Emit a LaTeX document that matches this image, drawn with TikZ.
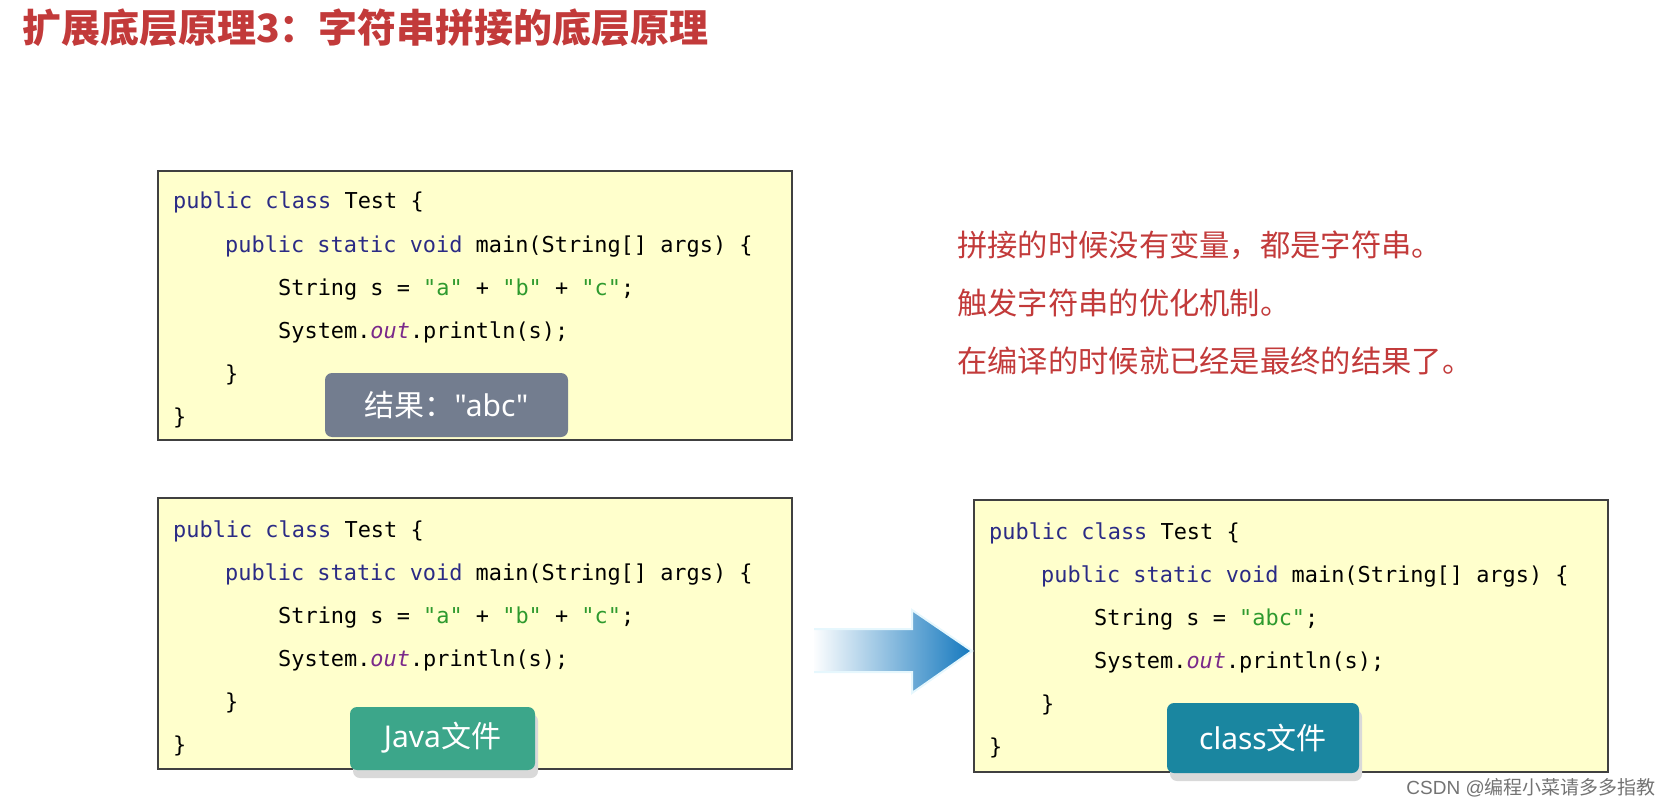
\documentclass[tikz,border=0pt]{standalone}
\usepackage{fontspec}
\setmonofont{DejaVu Sans Mono}
\newfontfamily\cjk{Noto Sans CJK SC}
\usetikzlibrary{positioning}
\definecolor{kw}{HTML}{2B2B85}
\definecolor{str}{HTML}{2E9A2E}
\definecolor{fld}{HTML}{7A2A8A}
\definecolor{boxfill}{HTML}{FFFFCC}
\definecolor{redt}{HTML}{C23A3A}
\definecolor{taggray}{HTML}{737D8F}
\definecolor{taggreen}{HTML}{3CA68A}
\definecolor{tagblue}{HTML}{1A86A0}
\definecolor{arrblue}{HTML}{1478BE}
\tikzset{
 codebox/.style={draw=black!75,line width=1.2pt,fill=boxfill,anchor=north west,inner sep=0pt},
 codeline/.style={anchor=base west,inner sep=0pt,font=\ttfamily\fontsize{21.9}{21.9}\selectfont},
 tag/.style={rounded corners=7pt,text=white,inner sep=0pt,font=\cjk\fontsize{30}{30}\selectfont},
 note/.style={anchor=base west,inner sep=0pt,text=redt,font=\cjk\fontsize{30.3}{30.3}\selectfont},
}
\newcommand{\kw}[1]{\textcolor{kw}{#1}}
\newcommand{\st}[1]{\textcolor{str}{#1}}
\newcommand{\fl}[1]{\textcolor{fld}{\itshape #1}}
\begin{document}
\begin{tikzpicture}[x=1pt,y=-1pt]
\useasboundingbox (0,0) rectangle (1671,805);
\node[anchor=west,inner sep=0pt,text=redt,font=\cjk\bfseries\fontsize{39}{39}\selectfont] (title) at (22,28) {扩展底层原理3：字符串拼接的底层原理};
% box 1
\draw[codebox] (158,171) rectangle (792,440);
\node[codeline] (a1) at (173,209) {\kw{public class} Test \{};
\node[codeline] (a2) at (225,252) {\kw{public static void} main(String[] args) \{};
\node[codeline] (a3) at (278,295) {String s = \st{"a"} + \st{"b"} + \st{"c"};};
\node[codeline] (a4) at (278,338) {System.\fl{out}.println(s);};
\node[codeline] (a5) at (225,381) {\}};
\node[codeline] (a6) at (173,424) {\}};
\fill[rounded corners=7pt,fill=taggray] (325,373) rectangle (568,437);
\node[tag] (res) at (446.5,405) {结果：{\fontspec{Noto Sans}"abc"}};
% notes
\node[note] (n1) at (957,257) {拼接的时候没有变量，都是字符串。};
\node[note] (n2) at (957,314) {触发字符串的优化机制。};
\node[note] (n3) at (957,372) {在编译的时候就已经是最终的结果了。};
% box 2
\draw[codebox] (158,498) rectangle (792,769);
\node[codeline] (b1) at (173,537) {\kw{public class} Test \{};
\node[codeline] (b2) at (225,580) {\kw{public static void} main(String[] args) \{};
\node[codeline] (b3) at (278,623) {String s = \st{"a"} + \st{"b"} + \st{"c"};};
\node[codeline] (b4) at (278,666) {System.\fl{out}.println(s);};
\node[codeline] (b5) at (225,709) {\}};
\node[codeline] (b6) at (173,752) {\}};
% box 3
\draw[codebox] (974,500) rectangle (1608,772);
\node[codeline] (c1) at (989,539) {\kw{public class} Test \{};
\node[codeline] (c2) at (1041,582) {\kw{public static void} main(String[] args) \{};
\node[codeline] (c3) at (1094,625) {String s = \st{"abc"};};
\node[codeline] (c4) at (1094,668) {System.\fl{out}.println(s);};
\node[codeline] (c5) at (1041,711) {\}};
\node[codeline] (c6) at (989,754) {\}};
% tags
\fill[black!15,rounded corners=7pt] (353,714) rectangle (538,778);
\fill[rounded corners=7pt,fill=taggreen] (350,707) rectangle (535,770);
\node[tag] (java) at (442.5,738) {{\fontspec{Noto Sans}Java}文件};
\fill[black!15,rounded corners=7pt] (1170,710) rectangle (1362,781);
\fill[rounded corners=7pt,fill=tagblue] (1167,703) rectangle (1359,773);
\node[tag] (cls) at (1263,738) {{\fontspec{Noto Sans}class}文件};
% arrow
\draw[line width=2pt,draw=cyan!10,left color=white,right color=arrblue]
 (812,629) -- (912,629) -- (912,610) -- (972,651) -- (912,693) -- (912,672) -- (812,672) -- cycle;
\draw[draw=white,line width=4pt] (812,627) -- (812,674);
\node[anchor=base east,inner sep=0pt,text=black!55,font=\cjk\fontsize{19}{19}\selectfont] (wm) at (1656,794) {{\fontspec{Liberation Sans}CSDN @}编程小菜请多多指教};
\end{tikzpicture}
\end{document}
